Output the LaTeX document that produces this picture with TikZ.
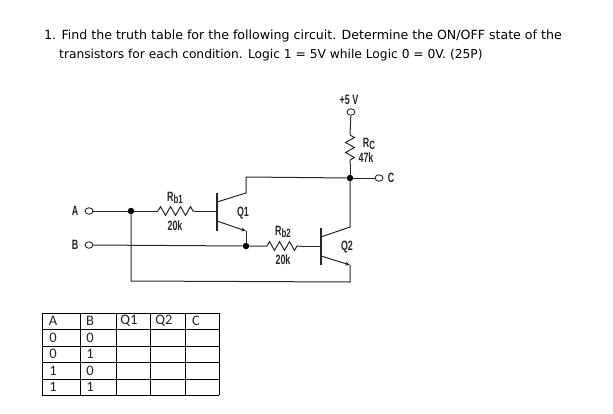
\documentclass[tikz,border=0pt]{standalone}
\usepackage{fontspec}
\setmainfont{DejaVu Sans}
\newfontfamily\cirfont{Liberation Sans}
\newfontfamily\tabfont{Carlito}
\newcommand{\lowsub}[1]{\raisebox{-2.5pt}{\fontsize{12}{12}\selectfont #1}}
\usetikzlibrary{decorations.pathmorphing,arrows.meta}
\tikzset{
 wire/.style={line width=1pt,black!85},
 res/.style={wire,decorate,decoration={zigzag,amplitude=4.4pt,segment length=10pt}},
 term/.style={ellipse,draw=black!85,fill=white,line width=0.9pt,minimum width=8pt,minimum height=6.5pt,inner sep=0pt},
 dot/.style={circle,fill=black,minimum size=6.5pt,inner sep=0pt},
 bar/.style={line width=1.1pt,black!85},
 emit/.style={wire,-{Stealth[length=5pt,width=4pt]}},
 cir/.style={inner sep=0pt,font=\cirfont\bfseries\fontsize{13.5}{13.5}\selectfont,xscale=0.66,text=black!85},
 head/.style={inner sep=0pt,anchor=base west,text=black},
 cell/.style={inner sep=0pt,font=\tabfont\fontsize{14.5}{14.5}\selectfont,text=black!85},
 grid/.style={line width=0.9pt,black}
}
\usetikzlibrary{shapes.geometric}
\begin{document}
\begin{tikzpicture}[x=1pt,y=-1pt]
\useasboundingbox (0,0) rectangle (613,413);
% text
\node[head,font=\fontsize{12.6}{14}\selectfont] (l1) at (44,39) {1. Find the truth table for the following circuit. Determine the ON/OFF state of the};
\node[head,font=\fontsize{12.25}{14}\selectfont] (l2) at (59,58) {transistors for each condition. Logic 1 = 5V while Logic 0 = 0V. (25P)};
% named points
\node[term] (ta) at (89,211) {};
\node[term] (tb) at (89,245) {};
\node[term] (tv) at (351,112) {};
\node[term] (tc) at (379,178) {};
\node[dot] (ja) at (131,211) {};
\node[dot] (je) at (246,246) {};
\node[dot] (jc) at (350,178) {};
\coordinate (r1a) at (158,211); \coordinate (r1b) at (195,211);
\coordinate (r2a) at (267,246); \coordinate (r2b) at (301,246);
\coordinate (rca) at (350,135); \coordinate (rcb) at (350,164);
\coordinate (b1) at (217,211); \coordinate (b1t) at (217,193); \coordinate (b1u) at (217,231);
\coordinate (c1a) at (217,202); \coordinate (c1b) at (246,193); \coordinate (c1c) at (246,177);
\coordinate (e1a) at (217,221); \coordinate (e1b) at (246,231);
\coordinate (b2) at (321,246); \coordinate (b2t) at (321,228); \coordinate (b2u) at (321,265);
\coordinate (c2a) at (321,237); \coordinate (c2b) at (350,227);
\coordinate (e2a) at (321,256); \coordinate (e2b) at (350,265); \coordinate (e2c) at (350,282);
\coordinate (bl) at (131,281);
% wires
\draw[wire] (ta) -- (ja) -- (r1a);
\draw[res] (r1a) -- (r1b);
\draw[wire] (r1b) -- (b1);
\draw[bar] (b1t) -- (b1u);
\draw[wire] (c1a) -- (c1b) -- (c1c) -- (jc);
\draw[emit] (e1a) -- (e1b);
\draw[wire] (e1b) -- (je);
\draw[wire] (tb) -- (je) -- (r2a);
\draw[res] (r2a) -- (r2b);
\draw[wire] (r2b) -- (b2);
\draw[bar] (b2t) -- (b2u);
\draw[wire] (c2a) -- (c2b) -- (jc);
\draw[emit] (e2a) -- (e2b);
\draw[wire] (e2b) -- (e2c) -- (bl) -- (ja);
\draw[wire] (tv) -- (rca);
\draw[res] (rca) -- (rcb);
\draw[wire] (rcb) -- (jc) -- (tc);
% labels
\node[cir] (la) at (75,211) {A};
\node[cir] (lb) at (75,245) {B};
\node[cir] (lv) at (349,100) {+5 V};
\node[cir] (lrc) at (369,144) {R\lowsub{C}};
\node[cir] (lk) at (366,158) {47k};
\node[cir] (lc) at (391,178) {C};
\node[cir] (lq1) at (243,213) {Q1};
\node[cir] (lq2) at (347,247) {Q2};
\node[cir] (lr1) at (175,198) {R\lowsub{b1}};
\node[cir] (l20a) at (175,226) {20k};
\node[cir] (lr2) at (283,232) {R\lowsub{b2}};
\node[cir] (l20b) at (283,260) {20k};
% table
\foreach \yy in {313,329,346,362,379,395} \draw[grid] (42,\yy) -- (219,\yy);
\foreach \xx in {42,80,116,150,185,219} \draw[grid] (\xx,313) -- (\xx,395);
\node[cell] (hA) at (53,321) {A};
\node[cell] (hB) at (90,321) {B};
\node[cell] (hQ1) at (129,321) {Q1};
\node[cell] (hQ2) at (164,321) {Q2};
\node[cell] (hC) at (196,321) {C};
\node[cell] (a1) at (53,338) {0}; \node[cell] (b1v) at (90,338) {0};
\node[cell] (a2) at (53,354) {0}; \node[cell] (b2v) at (90,354) {1};
\node[cell] (a3) at (53,371) {1}; \node[cell] (b3v) at (90,371) {0};
\node[cell] (a4) at (53,387) {1}; \node[cell] (b4v) at (90,387) {1};
\end{tikzpicture}
\end{document}
